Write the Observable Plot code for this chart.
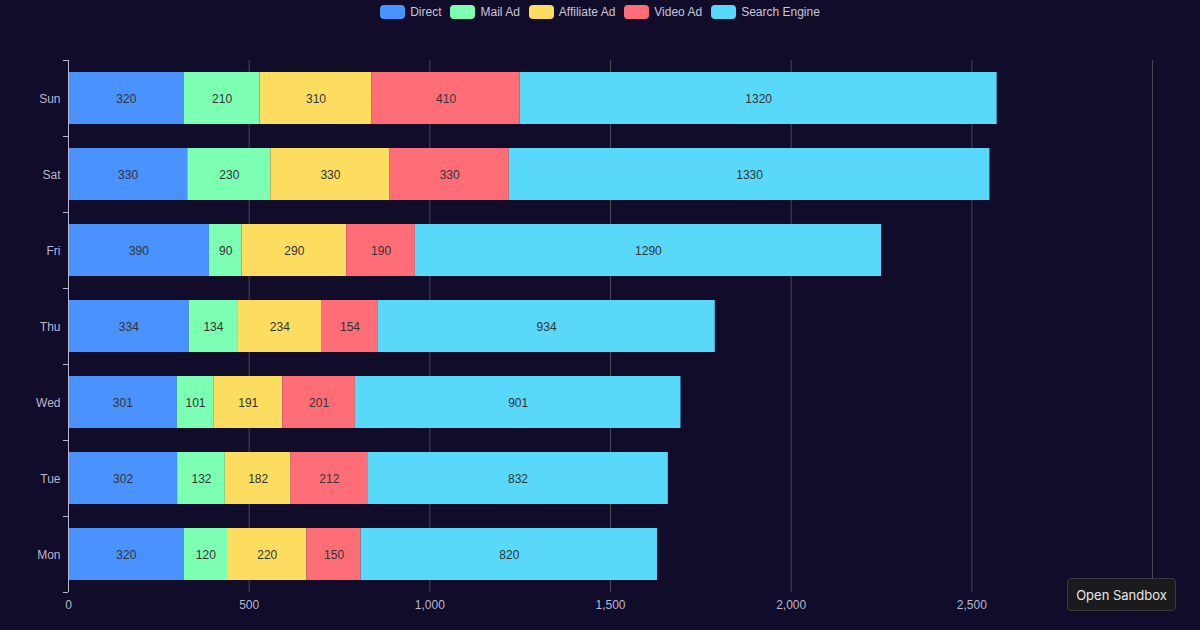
<!DOCTYPE html>
<html>
<head>
<meta charset="utf-8">
<script src="https://cdn.jsdelivr.net/npm/d3@7"></script>
<script src="https://cdn.jsdelivr.net/npm/@observablehq/plot@0.6"></script>
<style>
  html, body { margin: 0; padding: 0; background: #100c2a; }
  body { width: 1200px; height: 630px; overflow: hidden; font-family: "Liberation Sans", Arial, sans-serif; }
  #wrap { position: relative; width: 1200px; height: 630px; }
  #legend { position: absolute; top: 4px; left: 0; width: 1200px; display: flex; justify-content: center; gap: 9px; font-size: 12px; color: #c8c8d6; }
  #legend .item { display: flex; align-items: center; gap: 5px; height: 16px; }
  #legend .sw { width: 25px; height: 14px; border-radius: 4px; }
  #chart { position: absolute; top: 0; left: 0; }
  #btn { position: absolute; left: 1067px; top: 578px; width: 109px; height: 33px; box-sizing: border-box; background: #1b1b1d; border: 1px solid #3a3a3e; border-radius: 4px; color: #e8e8e8; font-size: 13px; display: flex; align-items: center; justify-content: center; font-family: Inter, "Liberation Sans", sans-serif; }
</style>
</head>
<body>
<div id="wrap">
  <div id="chart"></div>
  <div id="legend"></div>
  <div id="btn">Open Sandbox</div>
</div>
<script>
const days = ["Mon", "Tue", "Wed", "Thu", "Fri", "Sat", "Sun"];
const seriesNames = ["Direct", "Mail Ad", "Affiliate Ad", "Video Ad", "Search Engine"];
const seriesColors = ["#4992ff", "#7cffb2", "#fddd60", "#ff6e76", "#58d9f9"];
const direct = [320, 302, 301, 334, 390, 330, 320];
const mailAd = [120, 132, 101, 134, 90, 230, 210];
const affiliateAd = [220, 182, 191, 234, 290, 330, 310];
const videoAd = [150, 212, 201, 154, 190, 330, 410];
const searchEngine = [820, 832, 901, 934, 1290, 1330, 1320];
const xTicks = [0, 500, 1000, 1500, 2000, 2500, 3000];
const xLabelTicks = [0, 500, 1000, 1500, 2000, 2500]; // 3,000 is hidden under the button

const seriesValues = [direct, mailAd, affiliateAd, videoAd, searchEngine];
const rows = [];
seriesNames.forEach((s, si) => {
  days.forEach((d, di) => rows.push({ day: d, series: s, value: seriesValues[si][di] }));
});

// legend
const legendEl = document.getElementById("legend");
seriesNames.forEach((s, i) => {
  const it = document.createElement("div");
  it.className = "item";
  const sw = document.createElement("div");
  sw.className = "sw";
  sw.style.background = seriesColors[i];
  const t = document.createElement("span");
  t.textContent = s;
  it.appendChild(sw); it.appendChild(t);
  legendEl.appendChild(it);
});

const mTop = 60, mBottom = 38;
const bandStep = (630 - mTop - mBottom) / days.length;

const chart = Plot.plot({
  width: 1200,
  height: 630,
  marginTop: mTop,
  marginBottom: mBottom,
  marginLeft: 68,
  marginRight: 48,
  style: { background: "transparent", fontFamily: "'Liberation Sans', Arial, sans-serif", fontSize: "12px" },
  x: { domain: [0, 3000], ticks: xTicks, tickFormat: d3.format(",") },
  y: { domain: days.slice().reverse(), padding: 0.316, paddingOuter: 0.158 },
  color: { domain: seriesNames, range: seriesColors },
  marks: [
    Plot.ruleX(xTicks.filter(d => d > 0), { stroke: "#484753", strokeOpacity: 1 }),
    Plot.axisX({ ticks: xLabelTicks, tickSize: 0, tickPadding: 8, tickFormat: d3.format(","), color: "#b9b8ce", label: null }),
    Plot.axisY({ tickSize: 0, tickPadding: 8, color: "#b9b8ce", label: null, dy: 1 }),
    Plot.barX(rows, Plot.stackX({ x: "value", y: "day", z: "series", fill: "series" })),
    Plot.textX(rows, Plot.stackX({ x: "value", y: "day", z: "series", text: d => String(d.value), fill: "#333333", fontSize: 12, dy: 1 })),
    Plot.ruleX([0], { stroke: "#b9b8ce" }),
    Plot.ruleY(days, { y: d => d, x1: 0, x2: 0, insetLeft: -5, dy: -bandStep / 2, stroke: "#b9b8ce" }),
    Plot.ruleY(["Mon"], { y: d => d, x1: 0, x2: 0, insetLeft: -5, dy: bandStep / 2, stroke: "#b9b8ce" })
  ]
});
document.getElementById("chart").appendChild(chart);
</script>
</body>
</html>
